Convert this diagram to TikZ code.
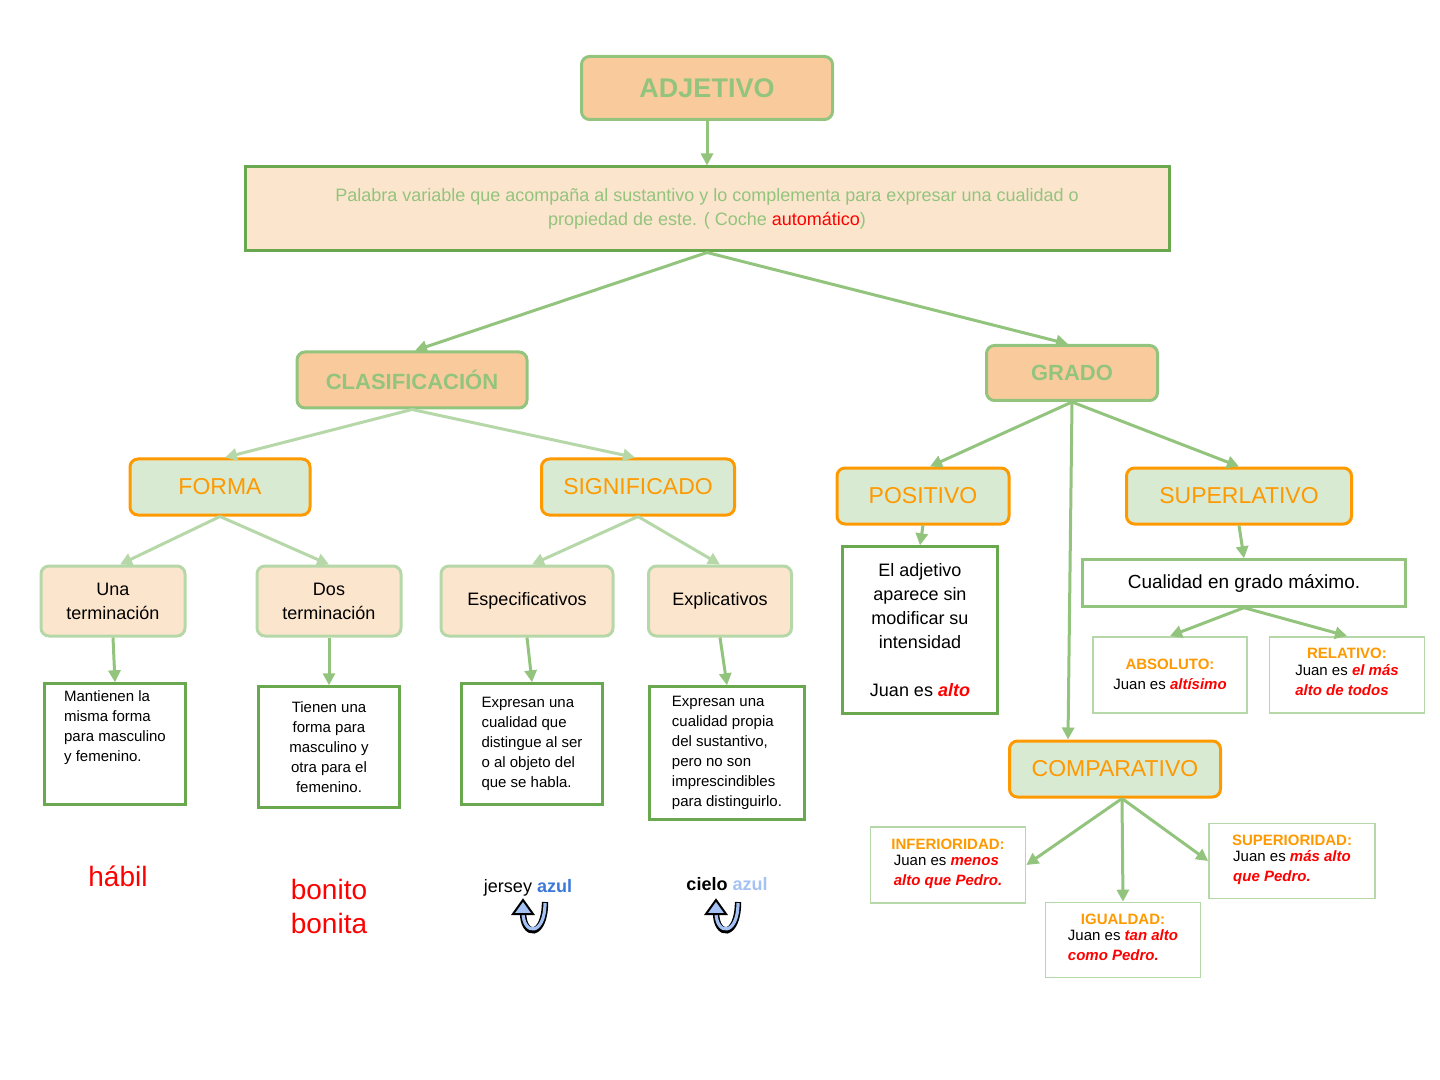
\documentclass[tikz,border=0pt]{standalone}
\usepackage{fontspec}
\setmainfont{Liberation Sans}
\usetikzlibrary{arrows.meta}
\definecolor{gA}{HTML}{93C47D}
\definecolor{gL}{HTML}{B6D7A8}
\definecolor{gD}{HTML}{6AA84F}
\definecolor{peach}{HTML}{F9CB9C}
\definecolor{cream}{HTML}{FCE5CD}
\definecolor{mint}{HTML}{D9EAD3}
\definecolor{orng}{HTML}{FF9900}
\definecolor{rd}{HTML}{FF0000}
\definecolor{bl}{HTML}{3C78D8}
\definecolor{lbl}{HTML}{A4C2F4}
\tikzset{
 every node/.style={inner sep=2pt, align=center},
 top/.style={draw=gA, line width=1.5pt, fill=peach, rounded corners=4pt, text=gA, font=\bfseries\fontsize{13.5}{16}\selectfont},
 cat/.style={draw=gA, line width=1.5pt, fill=peach, rounded corners=4pt, text=gA, font=\bfseries\fontsize{11}{13}\selectfont},
 sub/.style={draw=orng, line width=1.5pt, fill=mint, rounded corners=4pt, text=orng, font=\fontsize{11.5}{14}\selectfont},
 kind/.style={draw=gL, line width=1.5pt, fill=cream, rounded corners=4pt, font=\fontsize{9}{12}\selectfont},
 desc/.style={draw=gD, line width=1.2pt, fill=white, font=\fontsize{7.5}{10}\selectfont},
 ex/.style={draw=gL, line width=0.8pt, fill=white, font=\fontsize{7.5}{10}\selectfont},
 ar/.style={draw=gA, line width=1.5pt, -{Triangle[length=6pt,width=6pt]}},
 arl/.style={draw=gL, line width=1.5pt, -{Triangle[length=6pt,width=6pt]}},
 hd/.style={text=orng, font=\bfseries}
}
\begin{document}
\begin{tikzpicture}[x=0.5pt,y=-0.5pt]
\useasboundingbox (0,0) rectangle (1440,1080);
\node[top, minimum width=125.5pt, minimum height=31.5pt] (adj) at (707,88) {ADJETIVO};
\node[draw=gD, line width=1.5pt, fill=cream, minimum width=462pt, minimum height=42pt, text=gA, font=\fontsize{9}{12}\selectfont] (def) at (707,209)
 {Palabra variable que acompaña al sustantivo y lo complementa para expresar una cualidad o\\ propiedad de este. ( Coche \textcolor{rd}{automático})};
\node[cat, minimum width=115pt, minimum height=28pt] (cla) at (412,380) {CLASIFICACIÓN};
\node[cat, minimum width=85.5pt, minimum height=27.5pt] (gra) at (1072,373) {GRADO};
\node[sub, minimum width=90pt, minimum height=28pt] (for) at (220,487) {FORMA};
\node[sub, minimum width=96.5pt, minimum height=28pt] (sig) at (638,487) {SIGNIFICADO};
\node[sub, minimum width=86pt, minimum height=28pt] (pos) at (923,496) {POSITIVO};
\node[sub, minimum width=112.5pt, minimum height=28pt] (sup) at (1239,496) {SUPERLATIVO};
\node[sub, minimum width=105.5pt, minimum height=28pt] (com) at (1115,769) {COMPARATIVO};
\node[kind, minimum width=72pt, minimum height=35pt] (una) at (113,601) {Una\\terminación};
\node[kind, minimum width=72pt, minimum height=35pt] (dos) at (329,601) {Dos\\terminación};
\node[kind, minimum width=86pt, minimum height=35pt] (esp) at (527,601) {Especificativos};
\node[kind, minimum width=71.5pt, minimum height=35pt] (exp) at (720,601) {Explicativos};
\node[desc, minimum width=70.5pt, minimum height=60.5pt, align=left] (d1) at (115,744) {Mantienen la\\misma forma\\para masculino\\y femenino.\\[8pt]};
\node[desc, minimum width=70.5pt, minimum height=60.5pt] (d2) at (329,747) {Tienen una\\forma para\\masculino y\\otra para el\\femenino.};
\node[desc, minimum width=70.5pt, minimum height=60.5pt, align=left] (d3) at (532,744) {Expresan una\\cualidad que\\distingue al ser\\o al objeto del\\que se habla.};
\node[desc, minimum width=77.5pt, minimum height=66.5pt, align=left] (d4) at (727,753) {Expresan una\\cualidad propia\\del sustantivo,\\pero no son\\imprescindibles\\para distinguirlo.};
\node[desc, minimum width=77.5pt, minimum height=83.5pt, font=\fontsize{9}{12}\selectfont] (d5) at (920,630) {El adjetivo\\aparece sin\\modificar su\\intensidad\\[12pt]Juan es \textcolor{rd}{\bfseries\itshape alto}};
\node[desc, draw=gA, minimum width=161.5pt, minimum height=23.5pt, font=\fontsize{9.5}{12}\selectfont] (cua) at (1244,583) {Cualidad en grado máximo.};
\node[ex, minimum width=77pt, minimum height=38pt, anchor=north] (abs) at (1170,636) {\textcolor{orng}{\bfseries ABSOLUTO:}\\Juan es \textcolor{rd}{\bfseries\itshape altísimo}};
\node[ex, minimum width=77.5pt, minimum height=38pt, anchor=north] (rel) at (1347,636) {\textcolor{orng}{\bfseries RELATIVO:}\\\begin{tabular}{@{}l@{}}Juan es \textcolor{rd}{\bfseries\itshape el más}\\\textcolor{rd}{\bfseries\itshape alto de todos}\end{tabular}};
\node[ex, minimum width=77.5pt, minimum height=38pt] (inf) at (948,865) {\textcolor{orng}{\bfseries INFERIORIDAD:}\\\begin{tabular}{@{}l@{}}Juan es \textcolor{rd}{\bfseries\itshape menos}\\\textcolor{rd}{\bfseries\itshape alto que Pedro.}\end{tabular}};
\node[ex, minimum width=77.5pt, minimum height=37.5pt] (igu) at (1123,940) {\textcolor{orng}{\bfseries IGUALDAD:}\\\begin{tabular}{@{}l@{}}Juan es \textcolor{rd}{\bfseries\itshape tan alto}\\\textcolor{rd}{\bfseries\itshape como Pedro.}\end{tabular}};
\node[ex, minimum width=83pt, minimum height=37.5pt] (spr) at (1292,861) {\textcolor{orng}{\bfseries SUPERIORIDAD:}\\\begin{tabular}{@{}l@{}}Juan es \textcolor{rd}{\bfseries\itshape más alto}\\\textcolor{rd}{\bfseries\itshape que Pedro.}\end{tabular}};
\node[text=rd, font=\fontsize{14}{17}\selectfont] (hab) at (118,876) {hábil};
\node[text=rd, font=\fontsize{14}{17}\selectfont] (bon) at (329,906) {bonito\\bonita};
\node[font=\fontsize{9}{11}\selectfont] (jer) at (528,888) {jersey \textcolor{bl}{\bfseries azul}};
\node[font=\fontsize{9}{11}\selectfont] (cie) at (727,884) {\bfseries cielo \textcolor{lbl}{azul}};
% edges
\draw[ar] (adj.south) -- (def.north);
\draw[ar] (def.south) -- ([xshift=1.5pt]cla.north);
\draw[ar] (def.south) -- ([xshift=-2pt]gra.north);
\draw[arl] (cla.south) -- ([xshift=2.5pt]for.north);
\draw[arl] (cla.south) -- ([xshift=-1.5pt]sig.north);
\draw[arl] (for.south) -- ([xshift=3.5pt]una.north);
\draw[arl] (for.south) -- (dos.north);
\draw[arl] (sig.south) -- ([xshift=2.5pt]esp.north);
\draw[arl] (sig.south) -- (exp.north);
\draw[ar] (una.south) -- (d1.north);
\draw[ar] (dos.south) -- (d2.north);
\draw[ar] (esp.south) -- (d3.north);
\draw[ar] (exp.south) -- (d4.north);
\draw[ar] (gra.south) -- ([xshift=3.5pt]pos.north);
\draw[ar] (gra.south) -- (sup.north);
\draw[ar] (gra.south) -- ([xshift=-23.5pt]com.north);
\draw[ar] (pos.south) -- (d5.north);
\draw[ar] (sup.south) -- (cua.north);
\draw[ar] (cua.south) -- (abs.north);
\draw[ar] (cua.south) -- (rel.north);
\draw[ar] ([xshift=3.5pt]com.south) -- (inf.east);
\draw[ar] ([xshift=3.5pt]com.south) -- (igu.north);
\draw[ar] ([xshift=3.5pt]com.south) -- (spr.west);
% U arrows
\foreach \n/\cx in {u1/535,u2/728}{
 \draw[line width=3.2pt, black] (\cx+10,902) .. controls (\cx+10,938) and (\cx-12,938) .. (\cx-12,912);
 \draw[line width=1.6pt, lbl] (\cx+10,903) .. controls (\cx+10,936) and (\cx-12,936) .. (\cx-12,912);
 \filldraw[fill=lbl, draw=black, line width=1pt] (\cx-22,914) -- (\cx-12,900) -- (\cx-2,914) -- cycle;
}
\end{tikzpicture}
\end{document}
